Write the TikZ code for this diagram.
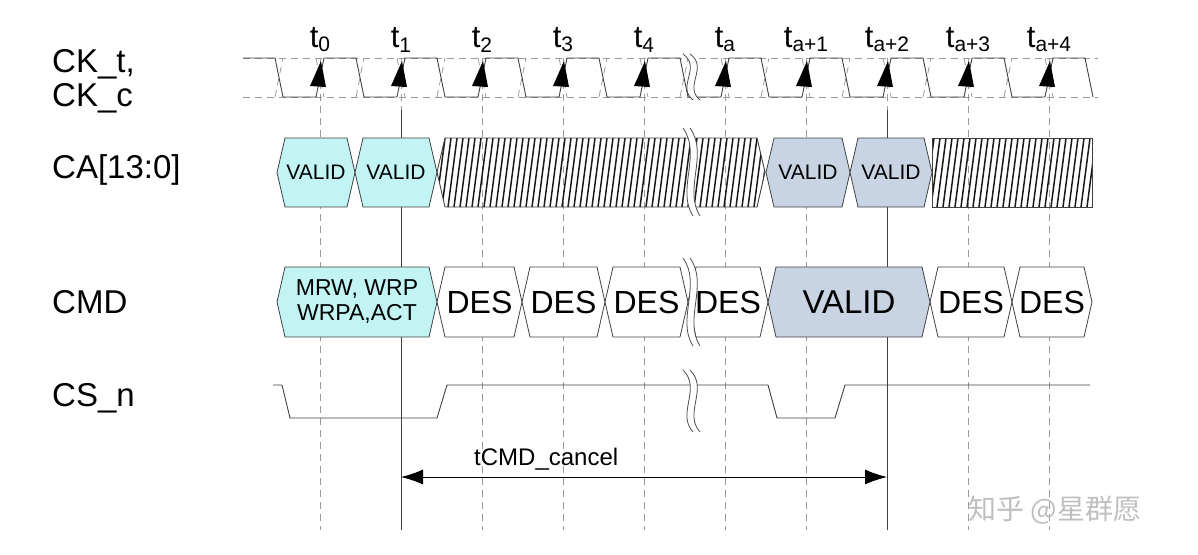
\documentclass[tikz,border=0pt]{standalone}
\usepackage{fontspec}
\usetikzlibrary{arrows.meta}
\setmainfont{Liberation Sans}
\newfontfamily\cjk{Noto Sans CJK SC}
\definecolor{cy}{HTML}{C2F4F4}
\definecolor{bg}{HTML}{C8D4E4}
\definecolor{dg}{HTML}{9A9A9A}
\newcommand\hbx[7]{% name,x1,x2,ytop,ybot,fill,text
  \path[fill=#6,draw=black!75,line width=0.8pt] (#2,{(#4+#5)/2}) -- (#2+8,#4) -- (#3-8,#4) -- (#3,{(#4+#5)/2}) -- (#3-8,#5) -- (#2+8,#5) -- cycle;
  \node[align=center,inner sep=0pt] (#1) at ({(#2+#3)/2},{(#4+#5)/2}) {#7};}
\newcommand\brk[3]{% x, ytop, ybot
  \fill[white] (#1-5,#2) .. controls (#1+14,{#2+(#3-#2)*0.3}) and (#1-12,{#2+(#3-#2)*0.7}) .. (#1+5,#3) -- (#1+12,#3) .. controls (#1-5,{#2+(#3-#2)*0.7}) and (#1+21,{#2+(#3-#2)*0.3}) .. (#1+2,#2) -- cycle;
  \draw[black!70,line width=0.8pt] (#1-5,#2) .. controls (#1+14,{#2+(#3-#2)*0.3}) and (#1-12,{#2+(#3-#2)*0.7}) .. (#1+5,#3);
  \draw[black!70,line width=0.8pt] (#1+2,#2) .. controls (#1+21,{#2+(#3-#2)*0.3}) and (#1-5,{#2+(#3-#2)*0.7}) .. (#1+12,#3);}
\tikzset{lbl/.style={font=\fontsize{33}{35}\selectfont,anchor=west,inner sep=0pt},
 tl/.style={font=\fontsize{31}{32}\selectfont,inner sep=0pt},
 vdash/.style={dg,dashed,dash pattern=on 7pt off 5pt,line width=0.8pt},
 sig/.style={black!75,line width=0.9pt},
 hat/.style={line width=1.5pt,black!90}}
\begin{document}
\begin{tikzpicture}[x=1pt,y=-1pt]
\useasboundingbox (0,0) rectangle (1198,554);
% labels
\node[lbl] (ckt) at (52,64) {CK\_t,};
\node[lbl] (ckc) at (52,98) {CK\_c};
\node[lbl] (ca) at (52,170) {CA[13:0]};
\node[lbl] (cmd) at (52,302) {CMD};
\node[lbl] (csn) at (52,398) {CS\_n};
% time labels
\foreach \x/\s [count=\i] in {320/0,401/1,482/2,563/3,644/4,725/a,806/a+1,887/a+2,968/a+3,1049/a+4}{
  \node[tl] (t\i) at (\x,40) {t\raisebox{-0.25ex}{\fontsize{21}{22}\selectfont \s}};
  \draw[vdash] (\x,58) -- (\x,530);
}
\draw[sig] (401,110) -- (401,530);
\draw[sig] (887,110) -- (887,530);
% clocks
\draw[vdash] (243,58) -- (1098,58);
\draw[vdash] (243,97) -- (1098,97);
\foreach \r in {320,401,...,1049}{
  \draw[vdash] (\r-4,58) -- (\r+4,97);
  \draw[vdash] (\r-45,97) -- (\r-37,58);
}
\draw[sig] (243,58) -- (275,58) -- (283,97)
  \foreach \r in {320,401,...,1049}{ -- (\r-4,97) -- (\r+4,58) -- (\r+36,58) -- (\r+44,97)};
\foreach \r in {320,401,...,1049}{
  \fill (\r-10,86) -- (\r+1,61) -- (\r+6,87) -- cycle;
}
\brk{688}{54}{100}
% CA
\hbx{ca1}{277}{355}{138}{207}{cy}{\fontsize{21}{22}\selectfont VALID}
\hbx{ca2}{355}{437}{138}{207}{cy}{\fontsize{21}{22}\selectfont VALID}
\hbx{ca3}{766}{850}{138}{207}{bg}{\fontsize{21}{22}\selectfont VALID}
\hbx{ca4}{850}{932}{138}{207}{bg}{\fontsize{21}{22}\selectfont VALID}
\begin{scope}
\clip (437,172) -- (445,138) -- (757,138) -- (765,172) -- (757,207) -- (445,207) -- cycle;
\foreach \x in {430,436,...,770} \draw[hat] (\x,207) -- (\x+9,138);
\end{scope}
\draw[sig] (437,172) -- (445,138) -- (757,138) -- (765,172) -- (757,207) -- (445,207) -- cycle;
\begin{scope}
\clip (932,138) rectangle (1092,207);
\foreach \x in {925,931,...,1095} \draw[hat] (\x,207) -- (\x+9,138);
\end{scope}
\draw[sig] (932,138) rectangle (1092,207);
\brk{688}{128}{216}
% CMD
\hbx{m1}{277}{437}{267}{337}{cy}{\fontsize{23}{25}\selectfont MRW, WRP\\[5pt]\fontsize{23}{25}\selectfont WRPA,ACT}
\foreach \a/\b/\n in {437/522/d1,522/605/d2,605/688/d3,688/768/d4,930/1012/d5,1012/1092/d6}{
  \hbx{\n}{\a}{\b}{267}{337}{white}{\fontsize{32}{33}\selectfont DES}
}
\hbx{m2}{768}{930}{267}{337}{bg}{\fontsize{33}{34}\selectfont VALID}
\brk{688}{258}{346}
% CS_n
\draw[sig] (273,385) -- (282,385) -- (290,418) -- (437,418) -- (447,385) -- (768,385) -- (777,418) -- (835,418) -- (845,385) -- (1090,385);
\brk{688}{370}{432}
% measure
\coordinate (ma) at (401,477);
\coordinate (mb) at (887,477);
\draw[line width=0.9pt,{Latex[length=22pt,width=15pt]}-{Latex[length=22pt,width=15pt]}] (ma) -- (mb);
\node[font=\fontsize{24}{25}\selectfont,anchor=south west,inner sep=0pt] (tc) at (474,470) {tCMD\_cancel};
\node[font=\cjk\fontsize{28}{30}\selectfont,text=black!25,inner sep=0pt] (wm) at (1055,510) {知乎 @星群愿};
\end{tikzpicture}
\end{document}
